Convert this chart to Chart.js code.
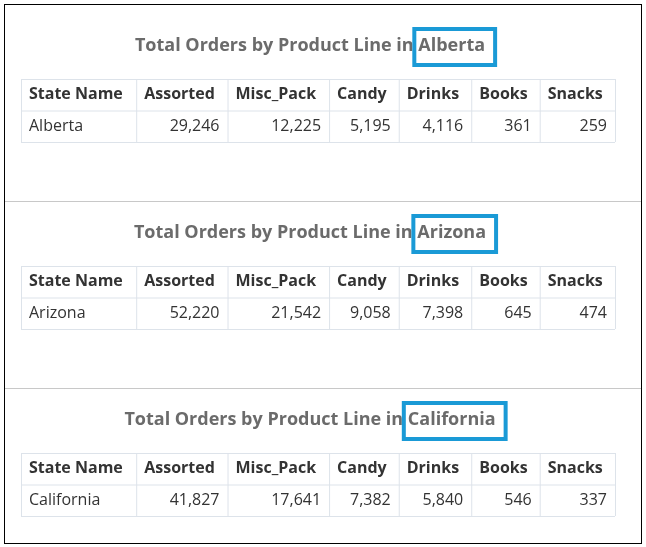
<!DOCTYPE html>
<html><head>
<script src="https://cdn.jsdelivr.net/npm/chart.js@4"></script>
<style>
html,body{margin:0;padding:0;background:#fff;}
#frame{position:absolute;left:4px;top:4px;width:636px;height:538px;border:1.5px solid #000;}
.p{position:absolute;left:0;width:636px;height:186px;}
.sep{position:absolute;left:0;width:636px;height:1px;background:#c8c8c8;}
</style></head><body>
<div id="frame">
<div class="p" style="top:1px"><canvas id="c0"></canvas></div>
<div class="sep" style="top:196px"></div>
<div class="p" style="top:188px"><canvas id="c1"></canvas></div>
<div class="sep" style="top:383px"></div>
<div class="p" style="top:375px"><canvas id="c2"></canvas></div>
</div>
<script>
const columns = ["State Name","Assorted","Misc_Pack","Candy","Drinks","Books","Snacks"];
const states = ["Alberta","Arizona","California"];
const alberta = [29246,12225,5195,4116,361,259];
const arizona = [52220,21542,9058,7398,645,474];
const california = [41827,17641,7382,5840,546,337];
const seriesByState = [alberta, arizona, california];
const titlePrefix = "Total Orders by Product Line in ";
const FONT = "'Open Sans', sans-serif";

const tablePlugin = {
  id:'tbl',
  afterDraw(chart){
    const ctx = chart.ctx, a = chart.chartArea, y = chart.scales.y;
    const st = chart.options.plugins.tbl.state, vals = chart.options.plugins.tbl.values;
    const rows = [columns, [st, ...vals.map(v=>v.toLocaleString('en-US'))]];
    ctx.save();
    ctx.font = "bold 18px "+FONT; ctx.fillStyle="#6b6b6b"; ctx.textBaseline="middle";
    const w1 = ctx.measureText(titlePrefix).width, w2 = ctx.measureText(st).width;
    const tx = (a.left+a.right)/2 - (w1+w2)/2 - 8, ty = 40;
    ctx.fillText(titlePrefix, tx, ty); ctx.fillText(st, tx+w1, ty);
    ctx.strokeStyle="#1a9ad6"; ctx.lineWidth=4;
    ctx.strokeRect(tx+w1-4, ty-17, w2+14, 36);
    const widths = columns.map((c,i)=>{
      ctx.font="bold 16px "+FONT; let m=ctx.measureText(c).width;
      ctx.font="16px "+FONT; m=Math.max(m, ctx.measureText(rows[1][i]).width);
      return m+18;
    });
    const tot = widths.reduce((s,v)=>s+v,0), k=(a.right-a.left)/tot;
    const xs=[a.left]; widths.forEach(w=>xs.push(xs[xs.length-1]+w*k));
    const rh = y.getPixelForValue(1)-y.getPixelForValue(0);
    const tops=[0,1].map(r=>y.getPixelForValue(r)-rh/2); tops.push(tops[1]+rh);
    ctx.strokeStyle="#dde3ea"; ctx.lineWidth=1;
    tops.forEach(t=>{ctx.beginPath();ctx.moveTo(xs[0],t+0.5);ctx.lineTo(xs[7],t+0.5);ctx.stroke();});
    xs.forEach(x=>{ctx.beginPath();ctx.moveTo(x+0.5,tops[0]);ctx.lineTo(x+0.5,tops[2]);ctx.stroke();});
    rows.forEach((row,r)=>{
      ctx.font=(r==0?"bold ":"")+"16px "+FONT; ctx.fillStyle="#333";
      const cy=y.getPixelForValue(r);
      row.forEach((txt,i)=>{
        if(i==0||r==0){ctx.textAlign="left";ctx.fillText(txt,xs[i]+8,cy);}
        else {ctx.textAlign="right";ctx.fillText(txt,xs[i+1]-8,cy);}
      });
    });
    ctx.restore();
  }
};

states.forEach((st,i)=>{
  new Chart(document.getElementById('c'+i),{
    type:'scatter',
    data:{datasets:[{data:[]}]},
    options:{
      responsive:true, maintainAspectRatio:false, animation:false,
      layout:{padding:{top:73,bottom:50,left:16,right:26}},
      scales:{
        x:{display:false,min:0,max:1},
        y:{type:'category',labels:['header',st],offset:true,display:false}
      },
      plugins:{legend:{display:false},tooltip:{enabled:false},tbl:{state:st,values:seriesByState[i]}}
    },
    plugins:[tablePlugin]
  });
});
</script></body></html>
